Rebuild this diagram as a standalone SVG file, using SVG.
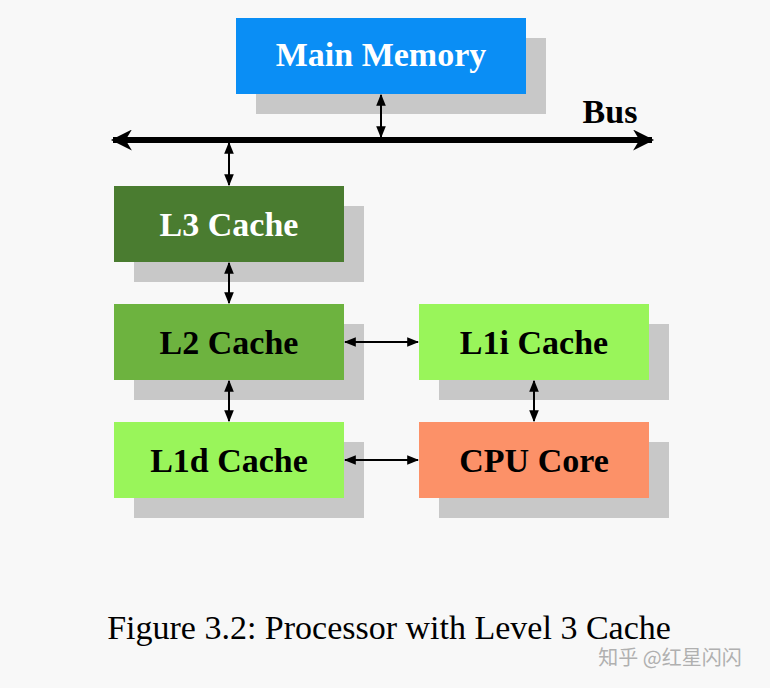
<svg xmlns="http://www.w3.org/2000/svg" width="770" height="688" viewBox="0 0 770 688">
<style>
.sh{fill:#c8c8c8}
.t{font-family:"Liberation Serif",serif;font-weight:bold;font-size:34px;text-anchor:middle}
.c{stroke:#000;stroke-width:2;fill:none;marker-start:url(#a);marker-end:url(#a)}
</style>
<defs>
<marker id="a" viewBox="0 0 10 10" refX="9" refY="5" markerWidth="6" markerHeight="6" orient="auto-start-reverse" markerUnits="strokeWidth"><path d="M0,1 L10,5 L0,9 z" fill="#000"/></marker>
<marker id="b" viewBox="0 0 10 10" refX="9" refY="5" markerWidth="4" markerHeight="3.5" orient="auto-start-reverse" markerUnits="strokeWidth"><path d="M0,0 L10,5 L0,10 L3,5 z" fill="#000"/></marker>
</defs>
<rect width="770" height="688" fill="#f8f8f8"/>
<g id="mainmem"><rect class="sh" x="256" y="38" width="290" height="76"/><rect x="236" y="18" width="290" height="76" fill="#0a8ef5"/><text class="t" x="381" y="66" fill="#fff">Main Memory</text></g>
<g id="bus"><text class="t" x="610" y="123" fill="#000">Bus</text></g>
<g id="l3"><rect class="sh" x="134" y="206" width="230" height="76"/><rect x="114" y="186" width="230" height="76" fill="#4a7c30"/><text class="t" x="229" y="236" fill="#fff">L3 Cache</text></g>
<g id="l2"><rect class="sh" x="134" y="324" width="230" height="76"/><rect x="114" y="304" width="230" height="76" fill="#6db33f"/><text class="t" x="229" y="354" fill="#000">L2 Cache</text></g>
<g id="l1d"><rect class="sh" x="134" y="442" width="230" height="76"/><rect x="114" y="422" width="230" height="76" fill="#99f55a"/><text class="t" x="229" y="472" fill="#000">L1d Cache</text></g>
<g id="l1i"><rect class="sh" x="439" y="324" width="230" height="76"/><rect x="419" y="304" width="230" height="76" fill="#99f55a"/><text class="t" x="534" y="354" fill="#000">L1i Cache</text></g>
<g id="cpu"><rect class="sh" x="439" y="442" width="230" height="76"/><rect x="419" y="422" width="230" height="76" fill="#fc9168"/><text class="t" x="534" y="472" fill="#000">CPU Core</text></g>
<g id="connectors">
<line x1="113" y1="140" x2="652" y2="140" stroke="#000" stroke-width="6" marker-start="url(#b)" marker-end="url(#b)"/>
<line class="c" x1="381" y1="95" x2="381" y2="137"/>
<line class="c" x1="229" y1="143" x2="229" y2="185"/>
<line class="c" x1="229" y1="263" x2="229" y2="303"/>
<line class="c" x1="229" y1="381" x2="229" y2="421"/>
<line class="c" x1="345" y1="342" x2="418" y2="342"/>
<line class="c" x1="345" y1="460" x2="418" y2="460"/>
<line class="c" x1="534" y1="381" x2="534" y2="421"/>
</g>
<text x="389" y="639" font-family="Liberation Serif,serif" font-size="34" text-anchor="middle" fill="#000">Figure 3.2: Processor with Level 3 Cache</text>
<text x="670" y="665" font-family="Noto Sans CJK SC,sans-serif" font-size="20" text-anchor="middle" fill="#b0b0b0">知乎 @红星闪闪</text>
</svg>
